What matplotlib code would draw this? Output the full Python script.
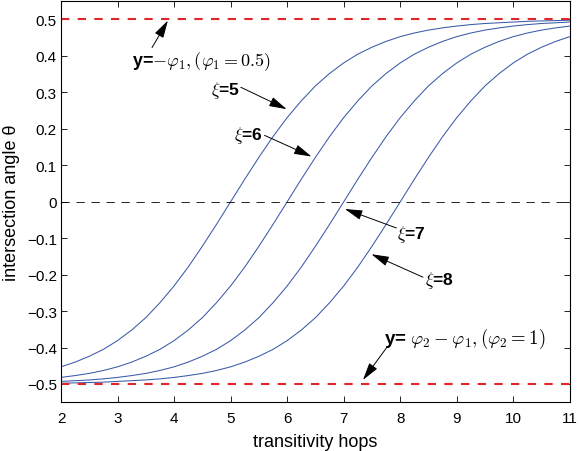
import numpy as np
import matplotlib
matplotlib.use("Agg")
import matplotlib.pyplot as plt

plt.rcParams['font.family'] = ['Liberation Sans', 'DejaVu Sans']
plt.rcParams['mathtext.fontset'] = 'cm'

# hops on the x axis
hops = [2, 2.25, 2.5, 2.75, 3, 3.25, 3.5, 3.75, 4, 4.25, 4.5, 4.75, 5, 5.25, 5.5, 5.75,
        6, 6.25, 6.5, 6.75, 7, 7.25, 7.5, 7.75, 8, 8.25, 8.5, 8.75, 9, 9.25, 9.5, 9.75,
        10, 10.25, 10.5, 10.75, 11]

# intersection angle
theta_xi5 = [-0.453, -0.440, -0.424, -0.405, -0.381, -0.352, -0.318, -0.277, -0.231, -0.179,
             -0.122, -0.062, 0.0, 0.062, 0.122, 0.179, 0.231, 0.277, 0.318, 0.352, 0.381,
             0.405, 0.424, 0.440, 0.453, 0.463, 0.471, 0.477, 0.482, 0.486, 0.489, 0.491,
             0.493, 0.495, 0.496, 0.497, 0.498]
theta_xi6 = [-0.482, -0.477, -0.471, -0.463, -0.453, -0.440, -0.424, -0.405, -0.381, -0.352,
             -0.318, -0.277, -0.231, -0.179, -0.122, -0.062, 0.0, 0.062, 0.122, 0.179, 0.231,
             0.277, 0.318, 0.352, 0.381, 0.405, 0.424, 0.440, 0.453, 0.463, 0.471, 0.477,
             0.482, 0.486, 0.489, 0.491, 0.493]
theta_xi7 = [-0.493, -0.491, -0.489, -0.486, -0.482, -0.477, -0.471, -0.463, -0.453, -0.440,
             -0.424, -0.405, -0.381, -0.352, -0.318, -0.277, -0.231, -0.179, -0.122, -0.062,
             0.0, 0.062, 0.122, 0.179, 0.231, 0.277, 0.318, 0.352, 0.381, 0.405, 0.424,
             0.440, 0.453, 0.463, 0.471, 0.477, 0.482]
theta_xi8 = [-0.498, -0.497, -0.496, -0.495, -0.493, -0.491, -0.489, -0.486, -0.482, -0.477,
             -0.471, -0.463, -0.453, -0.440, -0.424, -0.405, -0.381, -0.352, -0.318, -0.277,
             -0.231, -0.179, -0.122, -0.062, 0.0, 0.062, 0.122, 0.179, 0.231, 0.277, 0.318,
             0.352, 0.381, 0.405, 0.424, 0.440, 0.453]

# red limit lines and zero line
limite_sup = 0.5
limite_inf = -0.5
cero = 0.0

fig = plt.figure(figsize=(5.81, 4.52), dpi=100)
ax = fig.add_axes([0.105, 0.108, 0.876, 0.887])

azul = '#3a5aa8'
for th in [theta_xi5, theta_xi6, theta_xi7, theta_xi8]:
    ax.plot(hops, th, color=azul, lw=0.75)

ax.axhline(limite_sup, color='#e0262a', lw=1.5, ls=(0, (4, 4)))
ax.axhline(limite_inf, color='#e0262a', lw=1.5, ls=(0, (4, 4)))
ax.axhline(cero, color='k', lw=0.6, ls=(0, (10, 8)))

ax.set_xlim(2, 11)
ax.set_ylim(-0.55, 0.55)
ax.set_xticks(range(2, 12))
ax.set_yticks(np.arange(-0.5, 0.51, 0.1))
ax.set_yticklabels(['\u22120.5', '\u22120.4', '\u22120.3', '\u22120.2', '\u22120.1', '0',
                    '0.1', '0.2', '0.3', '0.4', '0.5'])
ax.tick_params(direction='in', top=True, right=True, labelsize=11, length=4, width=0.6)
ax.tick_params(axis='x', pad=6)
ax.tick_params(axis='y', pad=3)
for s in ax.spines.values():
    s.set_linewidth(0.8)

ax.set_xlabel('transitivity hops', fontsize=13, labelpad=6)
ax.set_ylabel('intersection angle \u03b8', fontsize=13, labelpad=5)

flecha = dict(arrowstyle='-|>,head_length=0.9,head_width=0.25', color='k', lw=0.7,
              shrinkA=0, shrinkB=0, mutation_scale=12)

# y = -phi1
ax.text(3.25, 0.387, r'y=$-\varphi_1,(\varphi_1=0.5)$', fontsize=13, fontweight='semibold',
        ha='left', va='center')
ax.annotate('', xy=(3.89, 0.497), xytext=(3.61, 0.423), arrowprops=flecha)

# etiquetas xi
ax.text(5.16, 0.307, r'$\xi$=5', fontsize=12.5, fontweight='bold', ha='right', va='center')
ax.annotate('', xy=(5.99, 0.254), xytext=(5.18, 0.314), arrowprops=flecha)
ax.text(5.57, 0.185, r'$\xi$=6', fontsize=12.5, fontweight='bold', ha='right', va='center')
ax.annotate('', xy=(6.43, 0.124), xytext=(5.60, 0.182), arrowprops=flecha)
ax.text(7.95, -0.088, r'$\xi$=7', fontsize=12.5, fontweight='bold', ha='left', va='center')
ax.annotate('', xy=(7.02, -0.02), xytext=(7.93, -0.072), arrowprops=flecha)
ax.text(8.43, -0.213, r'$\xi$=8', fontsize=12.5, fontweight='bold', ha='left', va='center')
ax.annotate('', xy=(7.49, -0.144), xytext=(8.40, -0.207), arrowprops=flecha)

# y = phi2 - phi1
ax.text(7.72, -0.373, r'y= $\varphi_2-\varphi_1,(\varphi_2=1)$', fontsize=13.5,
        fontweight='semibold', ha='left', va='center')
ax.annotate('', xy=(7.34, -0.489), xytext=(7.76, -0.40), arrowprops=flecha)

fig.savefig('out.png', dpi=100)
